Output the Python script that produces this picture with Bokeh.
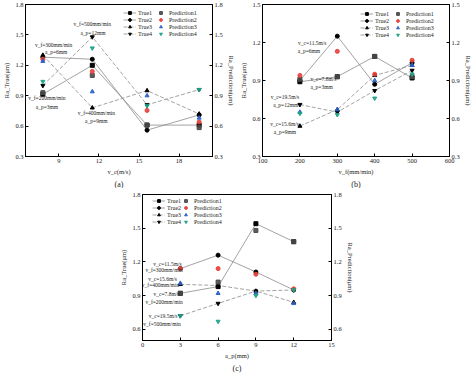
from bokeh.plotting import figure
from bokeh.models import LinearAxis, FixedTicker, Legend, LegendItem, Label, Title, Range1d, Spacer
from bokeh.layouts import column, row
from bokeh.embed import file_html
from bokeh.resources import INLINE

FONT = "Liberation Serif"

# ---------------- data: panel (a) ----------------
vc = [7.8, 11.5, 15.6, 19.5]
a_true1 = [0.915, 1.20, 0.61, 0.61]
a_true2 = [1.28, 1.26, 0.56, 0.71]
a_true3 = [1.30, 0.78, 0.95, 0.72]
a_true4 = [1.00, 1.48, 0.81, 0.96]
a_pred1 = [0.93, 1.10, 0.61, 0.585]
a_pred2 = [1.26, 1.14, 0.755, 0.64]
a_pred3 = [1.24, 0.94, 0.90, 0.68]
a_pred4 = [1.04, 1.37, 0.80, 0.96]
a_xticks = [9, 12, 15, 18]
a_yticks = [0.3, 0.6, 0.9, 1.2, 1.5, 1.8]

# ---------------- data: panel (b) ----------------
vf = [200, 300, 400, 500]
b_true1 = [0.89, 0.93, 1.09, 0.92]
b_true2 = [0.90, 1.25, 0.87, 1.04]
b_true3 = [0.54, 0.67, 0.94, 1.02]
b_true4 = [0.71, 0.65, 0.82, 0.98]
b_pred1 = [0.91, 0.93, 1.09, 0.93]
b_pred2 = [0.94, 1.13, 0.95, 1.06]
b_pred3 = [0.65, 0.67, 0.90, 1.02]
b_pred4 = [0.64, 0.63, 0.76, 0.95]
b_xticks = [100, 200, 300, 400, 500, 600]
b_yticks = [0.3, 0.6, 0.9, 1.2, 1.5]

# ---------------- data: panel (c) ----------------
ap = [3, 6, 9, 12]
c_true1 = [0.92, 0.98, 1.54, 1.38]
c_true2 = [1.14, 1.26, 1.11, 0.95]
c_true3 = [1.00, 0.99, 0.94, 0.84]
c_true4 = [0.72, 0.83, 0.94, 0.95]
c_pred1 = [0.92, 1.02, 1.48, 1.38]
c_pred2 = [1.14, 1.14, 1.09, 0.96]
c_pred3 = [1.01, 0.92, 0.92, 0.83]
c_pred4 = [0.72, 0.67, 0.90, 0.95]
c_xticks = [0, 3, 6, 9, 12, 15]
c_yticks = [0.6, 0.9, 1.2, 1.5, 1.8]

true_names = ["True1", "True2", "True3", "True4"]
pred_names = ["Prediction1", "Prediction2", "Prediction3", "Prediction4"]
markers = ["square", "circle", "triangle", "inverted_triangle"]
pred_colors = ["#4a4a4a", "#e8413c", "#2a62c9", "#1fa38a"]
line_dashes = ["solid", "solid", "4 2", "4 2"]


def style_axis(ax, ticks):
    ax.ticker = FixedTicker(ticks=ticks)
    ax.axis_line_color = "black"
    ax.axis_line_width = 1
    ax.major_tick_in = 3
    ax.major_tick_out = 0
    ax.minor_tick_line_color = None
    ax.major_tick_line_color = "black"
    ax.major_label_text_font = FONT
    ax.major_label_text_font_size = "6.5px"
    ax.major_label_text_color = "#222222"
    ax.major_label_standoff = 2
    ax.axis_label_text_font = FONT
    ax.axis_label_text_font_size = "6.5px"
    ax.axis_label_text_font_style = "normal"
    ax.axis_label_text_color = "#222222"
    ax.axis_label_standoff = 2


def panel(x, trues, preds, xr, yr, xticks, yticks, xlabel, tag, fw, fh, borders,
          leg_true, leg_pred, notes):
    p = figure(frame_width=fw, frame_height=fh, output_backend="svg", toolbar_location=None,
               x_range=Range1d(*xr), y_range=Range1d(*yr),
               min_border_left=borders[0], min_border_right=borders[1],
               min_border_top=borders[2], min_border_bottom=borders[3])
    p.grid.visible = False
    p.outline_line_color = "black"
    p.outline_line_width = 1
    p.background_fill_color = "white"
    p.border_fill_color = "white"
    style_axis(p.xaxis[0], xticks)
    style_axis(p.yaxis[0], yticks)
    p.xaxis[0].axis_label = xlabel
    p.yaxis[0].axis_label = "Ra_True(μm)"
    rax = LinearAxis(axis_label="Ra_Prediction(μm)")
    style_axis(rax, yticks)
    p.add_layout(rax, "right")
    p.add_layout(Title(text=tag, align="center", text_font=FONT, text_font_size="8px",
                       text_font_style="normal", text_color="#222222", standoff=0), "below")

    t_items, p_items = [], []
    for i in range(4):
        lr = p.line(x, trues[i], line_color="#8c8c8c", line_width=0.8, line_dash=line_dashes[i])
        sr = p.scatter(x, trues[i], marker=markers[i], size=4, fill_color="black",
                       line_color="black")
        t_items.append(LegendItem(label=true_names[i], renderers=[lr, sr]))
    for i in range(4):
        pr = p.scatter(x, preds[i], marker=markers[i], size=4, fill_color=pred_colors[i],
                       line_color=pred_colors[i], fill_alpha=0.9)
        p_items.append(LegendItem(label=pred_names[i], renderers=[pr]))

    for items, loc in ((t_items, leg_true), (p_items, leg_pred)):
        lg = Legend(items=items, location=loc, orientation="vertical", padding=1, spacing=0,
                    margin=0, glyph_width=13, glyph_height=7, label_height=7,
                    label_standoff=2, label_text_font=FONT, label_text_font_size="6px",
                    label_text_color="#222222", background_fill_alpha=0,
                    border_line_alpha=0)
        p.add_layout(lg, "center")

    for (tx, ty, txt) in notes:
        p.add_layout(Label(x=tx, y=ty, text=txt, text_align="center", text_baseline="middle",
                           text_font=FONT, text_font_size="5.5px", text_color="#222222"))
    return p


notes_a = [
    (11.5, 1.61, "v_f=500mm/min"), (11.55, 1.52, "a_p=12mm"),
    (8.6, 1.40, "v_f=300mm/min"), (8.8, 1.33, "a_p=6mm"),
    (8.1, 0.88, "v_f=200mm/min"), (8.1, 0.79, "a_p=3mm"),
    (11.8, 0.73, "v_f=400mm/min"), (11.8, 0.65, "a_p=9mm"),
]
notes_b = [
    (233, 1.20, "v_c=11.5m/s"), (224, 1.13, "a_p=6mm"),
    (263, 0.91, "v_c=7.8m/s"), (258, 0.85, "a_p=3mm"),
    (160, 0.77, "v_c=19.5m/s"), (162, 0.71, "a_p=12mm"),
    (159, 0.56, "v_c=15.6m/s"), (160, 0.49, "a_p=9mm"),
]
notes_c = [
    (1.98, 1.18, "v_c=11.5m/s"), (1.71, 1.13, "v_f=300mm/min"),
    (1.59, 1.05, "v_c=15.6m/s"), (1.43, 0.99, "v_f=400mm/min"),
    (1.90, 0.91, "v_c=7.8m/s"), (1.71, 0.84, "v_f=200mm/min"),
    (1.63, 0.72, "v_c=19.5m/s"), (1.55, 0.65, "v_f=500mm/min"),
]

pa = panel(vc, [a_true1, a_true2, a_true3, a_true4], [a_pred1, a_pred2, a_pred3, a_pred4],
           (6.5, 20.5), (0.3, 1.8), a_xticks, a_yticks, "v_c(m/s)", "(a)",
           187, 152, (25, 25, 4, 32), (97, 118), (128, 118), notes_a)
pb = panel(vf, [b_true1, b_true2, b_true3, b_true4], [b_pred1, b_pred2, b_pred3, b_pred4],
           (100, 600), (0.3, 1.5), b_xticks, b_yticks, "v_f(mm/min)", "(b)",
           187, 152, (25, 25, 4, 32), (97, 117), (128, 117), notes_b)
pc = panel(ap, [c_true1, c_true2, c_true3, c_true4], [c_pred1, c_pred2, c_pred3, c_pred4],
           (0, 15), (0.5, 1.8), c_xticks, c_yticks, "a_p(mm)", "(c)",
           189, 146, (25, 25, 6, 33), (9, 114), (36, 114), notes_c)

layout = column(row(pa, pb), row(Spacer(width=117, height=185), pc))

open("out.html", "w").write(file_html(layout, INLINE))
